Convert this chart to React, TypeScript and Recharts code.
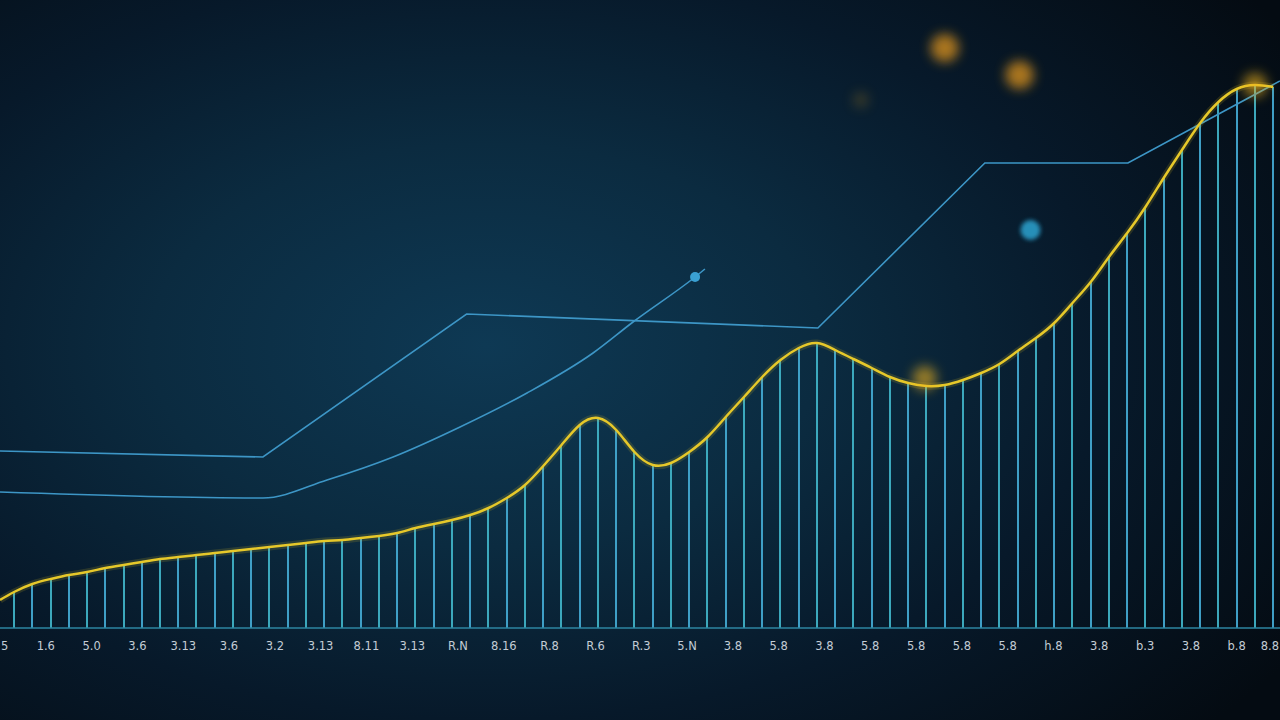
import { ComposedChart, Bar, Line, Scatter, XAxis, YAxis } from "recharts";

// stem heights (= yellow curve), one per stem, left to right
const stemHeights = [
  36, 44, 49, 53, 56, 60, 63, 66, 69, 71,
  73, 75, 77, 79, 81, 83, 85, 87, 88, 90,
  92, 95, 100, 104, 108, 113, 120, 130, 143, 162,
  183, 203, 210, 198, 176, 163, 165, 176, 191, 211,
  231, 251, 268, 280, 285, 278, 269, 260, 251, 245,
  242, 243, 248, 255, 264, 277, 290, 305, 325, 346,
  371, 395, 421, 450, 478, 505, 526, 539, 543, 541,
];
// where the yellow curve enters at the left edge
const curveStart = { x: -0.77, curve: 28 };

// the two thin blue lines
const upperLine = [
  { x: -0.77, v: 177 }, { x: 13.64, v: 171 }, { x: 24.8, v: 314 },
  { x: 44.05, v: 300 }, { x: 53.2, v: 465 }, { x: 61.04, v: 465 },
  { x: 69.37, v: 547 },
];
const lowerLine = [
  { x: -0.77, v: 136 }, { x: 13.64, v: 130 }, { x: 17.15, v: 148 },
  { x: 20.77, v: 171 }, { x: 24.44, v: 201 }, { x: 28.11, v: 235 },
  { x: 31.73, v: 275 }, { x: 33.92, v: 306 },
  { x: 37.32, v: 351, end: true }, { x: 37.86, v: 359 },
];

// soft glow spots
const glowSpots = [
  { x: 51.0, v: 580, kind: "amber" },
  { x: 55.1, v: 553, kind: "amber" },
  { x: 46.4, v: 528, kind: "faint" },
  { x: 55.7, v: 398, kind: "blue" },
  { x: 49.9, v: 250, kind: "gold" },
  { x: 68.0, v: 543, kind: "gold" },
];

const tickLabels = [
  "5", "1.6", "5.0", "3.6", "3.13", "3.6", "3.2", "3.13", "8.11", "3.13",
  "R.N", "8.16", "R.8", "R.6", "R.3", "5.N", "3.8", "5.8", "3.8", "5.8",
  "5.8", "5.8", "5.8", "h.8", "3.8", "b.3", "3.8", "b.8", "8.8",
];
const tickPos = tickLabels.map((_, k) => k * 2.51 - 0.77);

const rows = [curveStart, ...stemHeights.map((h, i) => ({ x: i, stem: h, curve: h }))];

const glowStyle: Record<string, { r: number; fill: string; op: number; blur: string }> = {
  amber: { r: 14, fill: "#e0951c", op: 0.75, blur: "url(#blurBig)" },
  faint: { r: 8, fill: "#8a6a20", op: 0.35, blur: "url(#blurBig)" },
  blue: { r: 10, fill: "#2a9cc8", op: 0.9, blur: "url(#blurSmall)" },
  gold: { r: 12, fill: "#f0b41e", op: 0.6, blur: "url(#blurBig)" },
};

function GlowShape(props: any) {
  const s = glowStyle[props.payload.kind];
  return <circle cx={props.cx} cy={props.cy} r={s.r} fill={s.fill} opacity={s.op} filter={s.blur} />;
}

function EndDot(props: any) {
  if (!props.payload || !props.payload.end) return null;
  return <circle key={props.index} cx={props.cx} cy={props.cy} r={5} fill="#3aa0d2" />;
}

// thin crisp stem, alternating teal / blue like the reference
function Stem(props: any) {
  const { x, y, width, height, index } = props;
  if (!height) return null;
  const cx = Math.round(x + width / 2) - 1;
  return (
    <rect x={cx} y={y} width={2} height={height} shapeRendering="crispEdges"
      fill={index % 2 ? "#42a6cf" : "#3fb0c4"} fillOpacity={0.95} />
  );
}

// keep the edge labels inside the picture
function EdgeTick(props: any) {
  const { x, y, index } = props;
  let anchor = "middle";
  let tx = x;
  if (x < 10) { anchor = "start"; tx = 1; }
  if (x > 1265) { anchor = "end"; tx = 1279; }
  return (
    <text x={tx} y={y} dy="0.71em" textAnchor={anchor} fontSize={11.5} fill="#c3ccd5" fontFamily="DejaVu Sans">
      {tickLabels[index]}
    </text>
  );
}

export default function App() {
  return (
    <div
      style={{
        position: "absolute", left: 0, top: 0, width: 1280, height: 720, overflow: "hidden",
        background: "radial-gradient(ellipse 75% 80% at 38% 48%, #0e3954 0%, #0b2b40 35%, #07192a 65%, #040b12 100%)",
      }}
    >
      <ComposedChart width={1300} height={720} data={rows} margin={{ top: 0, right: 0, bottom: 0, left: 0 }}>
        <defs>
          <filter id="blurBig" x="-100%" y="-100%" width="300%" height="300%">
            <feGaussianBlur stdDeviation="6" />
          </filter>
          <filter id="blurSmall" x="-100%" y="-100%" width="300%" height="300%">
            <feGaussianBlur stdDeviation="2" />
          </filter>
        </defs>
        <XAxis
          dataKey="x" type="number" domain={[-0.77, 70.47]} allowDataOverflow
          ticks={tickPos} interval={0} height={92}
          tick={<EdgeTick />}
          tickLine={false} tickMargin={8}
          axisLine={{ stroke: "#2c86a2", strokeWidth: 1.5 }}
        />
        <YAxis type="number" domain={[0, 628]} hide allowDataOverflow />
        <Bar dataKey="stem" barSize={2} fill="#45aed2" shape={<Stem />} isAnimationActive={false} />
        <Line data={upperLine} dataKey="v" type="linear" stroke="#3d96c6" strokeWidth={1.6} dot={false} activeDot={false} isAnimationActive={false} />
        <Line data={lowerLine} dataKey="v" type="monotone" stroke="#3d96c6" strokeWidth={1.6} dot={<EndDot />} activeDot={false} isAnimationActive={false} />
        <Line dataKey="curve" type="natural" stroke="#e8c820" strokeWidth={7} strokeOpacity={0.15} dot={false} activeDot={false} isAnimationActive={false} />
        <Line dataKey="curve" type="natural" stroke="#e6c82a" strokeWidth={2.5} dot={false} activeDot={false} isAnimationActive={false} />
        <Scatter data={glowSpots} dataKey="v" shape={<GlowShape />} isAnimationActive={false} />
      </ComposedChart>
    </div>
  );
}
